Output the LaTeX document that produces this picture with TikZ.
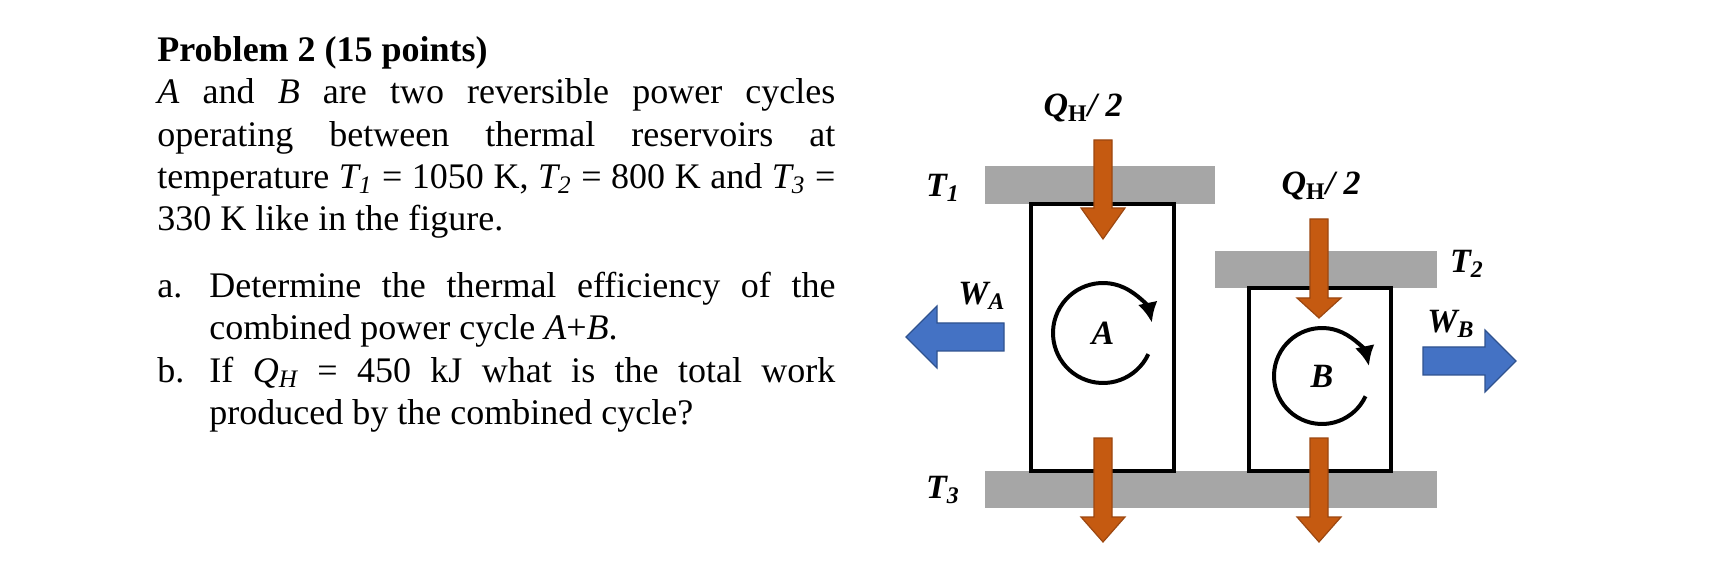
\documentclass[tikz,border=0pt]{standalone}
\usepackage{fontspec}
\setmainfont{Liberation Serif}
\usetikzlibrary{arrows.meta}
\definecolor{orng}{HTML}{C55A11}
\definecolor{orngd}{HTML}{9C4710}
\definecolor{blu}{HTML}{4472C4}
\definecolor{blud}{HTML}{2F528F}
\definecolor{gry}{HTML}{A6A6A6}
\newcommand\darrow[4]{\filldraw[heat] (#1-9,#2)--(#1+9,#2)--(#1+9,#3)--(#1+22,#3)--(#1,#4)--(#1-22,#3)--(#1-9,#3)--cycle;}
\begin{document}
\begin{tikzpicture}[x=0.5bp,y=-0.5bp,
  bar/.style={fill=gry,draw=none},
  engine/.style={draw=black,line width=2pt,fill=white},
  heat/.style={fill=orng,draw=orngd,line width=0.6pt},
  work/.style={fill=blu,draw=blud,line width=0.6pt},
  cyc/.style={line width=2pt,-{Latex[length=10bp,width=10bp]}},
  lbl/.style={font=\fontsize{17bp}{19bp}\selectfont\bfseries\itshape,inner sep=0pt}]
\useasboundingbox (0,0) rectangle (1716,578);
% text
\node[anchor=north west,inner sep=0pt,text width=339bp,align=justify,
  font=\fontsize{18bp}{21.2bp}\selectfont] (txt) at (157,36) {%
\textbf{Problem 2 (15 points)}\\
\textit{A} and \textit{B} are two reversible power cycles\linebreak
operating between thermal reservoirs at\linebreak
temperature \textit{T\textsubscript{1}} = 1050 K, \textit{T\textsubscript{2}} = 800 K and \textit{T\textsubscript{3}} =\linebreak
330 K like in the figure.\par\vspace{12bp}
\leftskip=26bp
\hspace*{-26bp}\makebox[26bp][l]{a.}Determine the thermal efficiency of the\linebreak
combined power cycle \textit{A}+\textit{B}.\par
\hspace*{-26bp}\makebox[26bp][l]{b.}If \textit{Q\textsubscript{H}} = 450 kJ what is the total work\linebreak
produced by the combined cycle?\par};
% reservoirs
\fill[bar] (985,166) rectangle (1215,204);
\fill[bar] (1215,251) rectangle (1437,288);
\fill[bar] (985,471) rectangle (1437,508);
% engines
\draw[engine] (1031,204) rectangle (1174,471);
\draw[engine] (1249,288) rectangle (1391,471);
% cycles
\coordinate (ca) at (1103,333);
\coordinate (cb) at (1322,376);
\draw[cyc] ([shift={(25:50)}]ca) arc[start angle=25,end angle=348,radius=50];
\draw[cyc] ([shift={(25:48)}]cb) arc[start angle=25,end angle=348,radius=48];
\node[lbl] (A) at (ca) {A};
\node[lbl] (B) at (cb) {B};
% heat arrows
\darrow{1103}{140}{208}{239}
\darrow{1103}{438}{517}{542}
\darrow{1319}{219}{298}{318}
\darrow{1319}{438}{517}{542}
% work arrows
\filldraw[work] (1004,323)--(937,323)--(937,306)--(906,337)--(937,368)--(937,351)--(1004,351)--cycle;
\filldraw[work] (1423,347)--(1485,347)--(1485,330)--(1516,361)--(1485,392)--(1485,375)--(1423,375)--cycle;
% labels
\node[lbl] (q1) at (1083,108) {Q\textsubscript{\upshape H}/ 2};
\node[lbl] (q2) at (1321,186) {Q\textsubscript{\upshape H}/ 2};
\node[lbl] (t1) at (943,188) {T\textsubscript{1}};
\node[lbl] (t2) at (1467,264) {T\textsubscript{2}};
\node[lbl] (t3) at (943,490) {T\textsubscript{3}};
\node[lbl] (wa) at (982,296) {W\textsubscript{A}};
\node[lbl] (wb) at (1451,324) {W\textsubscript{B}};
\end{tikzpicture}
\end{document}
